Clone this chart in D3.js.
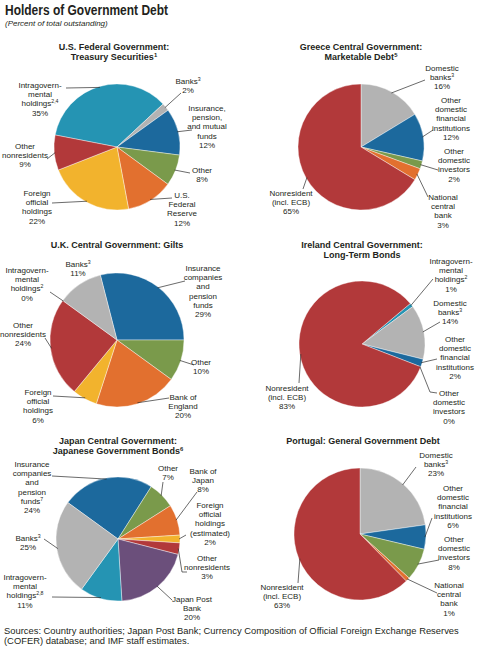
<!DOCTYPE html>
<html>
<head>
<meta charset="utf-8">
<script src="https://cdn.jsdelivr.net/npm/d3@7"></script>
<style>
  body { margin: 0; background: #fff; }
  text { font-family: "Liberation Sans", Arial, sans-serif; fill: #231f20; }
</style>
</head>
<body>
<div id="container"></div>
<script>
/* DATA (percent of total outstanding) */
// "|" splits a label into lines, {..} marks a superscript
const usTitle = ["U.S. Federal Government:", "Treasury Securities{1}"];
const usLabels = ["Intragovern-|mental|holdings{2,4}", "Banks{3}", "Insurance,|pension,|and mutual|funds", "Other", "U.S.|Federal|Reserve", "Foreign|official|holdings", "Other|nonresidents"];
const usValues = [35, 2, 12, 8, 12, 22, 9];

const grTitle = ["Greece Central Government:", "Marketable Debt{5}"];
const grLabels = ["Domestic|banks{3}", "Other|domestic|financial|institutions", "Other|domestic|investors", "National|central|bank", "Nonresident|(incl. ECB)"];
const grValues = [16, 12, 2, 3, 65];

const ukTitle = ["U.K. Central Government: Gilts"];
const ukLabels = ["Insurance|companies|and|pension|funds", "Other", "Bank of|England", "Foreign|official|holdings", "Other|nonresidents", "Intragovern-|mental|holdings{2}", "Banks{3}"];
const ukValues = [29, 10, 20, 6, 24, 0, 11];

const ieTitle = ["Ireland Central Government:", "Long-Term Bonds"];
const ieLabels = ["Intragovern-|mental|holdings{2}", "Domestic|banks{3}", "Other|domestic|financial|institutions", "Other|domestic|investors", "Nonresident|(incl. ECB)"];
const ieValues = [1, 14, 2, 0, 83];

const jpTitle = ["Japan Central Government:", "Japanese Government Bonds{6}"];
const jpLabels = ["Insurance|companies|and|pension|funds{7}", "Other", "Bank of|Japan", "Foreign|official|holdings|(estimated)", "Other|nonresidents", "Japan Post|Bank", "Intragovern-|mental|holdings{2,8}", "Banks{3}"];
const jpValues = [24, 7, 8, 2, 3, 20, 11, 25];

const ptTitle = ["Portugal: General Government Debt"];
const ptLabels = ["Domestic|banks{3}", "Other|domestic|financial|institutions", "Other|domestic|investors", "National|central|bank", "Nonresident|(incl. ECB)"];
const ptValues = [23, 6, 8, 1, 63];

const sourceLines = [
  "Sources: Country authorities; Japan Post Bank; Currency Composition of Official Foreign Exchange Reserves",
  "(COFER) database; and IMF staff estimates."
];

/* STYLES */
const C = {
  teal: "#2594b3", gray: "#b3b3b3", blue: "#1c699d", green: "#7a9a4b",
  orange: "#e2702f", gold: "#f2b32d", red: "#b2393a", purple: "#6b4f7b"
};

/* LAYOUT: pie centre, radius, start angle (deg), title spot, label spots [x, y, leader points] */
const panels = [
  { title: usTitle, labels: usLabels, values: usValues, cx: 117, cy: 147, r: 63, start: -79, tx: 114, ty: 50,
    colors: [C.teal, C.gray, C.blue, C.green, C.orange, C.gold, C.red],
    spots: [[40, 88, [[66, 88]]], [188, 84, [[181, 93]]], [207, 111, [[192, 130]]], [202, 173, [[190, 173]]],
            [182, 198, [[172, 198]]], [37, 196, [[52, 203]]], [25, 149, [[47, 159]]]] },
  { title: grTitle, labels: grLabels, values: grValues, cx: 361, cy: 147, r: 63, start: 0, tx: 361, ty: 50,
    colors: [C.gray, C.blue, C.green, C.orange, C.red],
    spots: [[442, 71, [[425, 80]]], [451, 103, [[433, 130]]], [454, 154, [[438, 170]]], [443, 200, [[428, 197]]],
            [291, 196, [[303, 189]]]] },
  { title: ukTitle, labels: ukLabels, values: ukValues, cx: 117, cy: 340, r: 67, start: -14.4, tx: 117, ty: 248,
    colors: [C.blue, C.green, C.orange, C.gold, C.red, C.teal, C.gray],
    spots: [[203, 271, [[185, 281]]], [201, 365, [[194, 365]]], [183, 400, [[169, 398]]], [38, 395, [[53, 396]]],
            [23, 328, [[45, 338]]], [27, 273, [[50, 292]]], [78, 267, []]] },
  { title: ieTitle, labels: ieLabels, values: ieValues, cx: 362, cy: 344, r: 63, start: 50, tx: 362, ty: 248,
    colors: [C.teal, C.gray, C.blue, C.green, C.red],
    spots: [[451, 264, [[433, 279]]], [450, 306, [[440, 322]]], [455, 342, [[437, 359]]],
            [449, 396, [[430, 392], [437, 393]]], [287, 391, [[299, 383]]]] },
  { title: jpTitle, labels: jpLabels, values: jpValues, cx: 118, cy: 539, r: 62, start: -54, tx: 118, ty: 444,
    colors: [C.blue, C.green, C.orange, C.gold, C.red, C.purple, C.teal, C.gray],
    spots: [[32, 467, [[52, 476]]], [168, 471, [[163, 482]]], [203, 474, [[197, 492]]], [210, 508, [[186, 535]]],
            [207, 561, [[182, 572], [187, 572]]], [192, 602, [[172, 600]]], [25, 580, [[52, 597]]], [28, 541, [[44, 539]]]] },
  { title: ptTitle, labels: ptLabels, values: ptValues, cx: 360, cy: 534, r: 66, start: 0, tx: 363, ty: 444,
    colors: [C.gray, C.blue, C.green, C.orange, C.red],
    spots: [[436, 458, [[416, 467]]], [453, 491, [[432, 518]]], [454, 542, [[439, 560]]], [449, 588, [[437, 593]]],
            [282, 590, [[298, 583]]]] }
];

const width = 480, height = 646;
const lineH = 9.2;
const rad = Math.PI / 180;

const svg = d3.select("#container")
  .append("svg")
  .attr("width", width)
  .attr("height", height);

// one line of text, with an optional superscript at the end
function writeLine(sel, str) {
  const m = str.match(/^(.*)\{(.+)\}$/);
  sel.append("tspan").text(m ? m[1] : str);
  if (m) sel.append("tspan").attr("dy", -3).style("font-size", "0.65em").text(m[2]);
}

/* HEADER */
svg.append("text")
  .attr("x", 5).attr("y", 15)
  .attr("textLength", 163).attr("lengthAdjust", "spacingAndGlyphs")
  .style("font-family", "'Liberation Sans Narrow', 'Liberation Sans', Arial, sans-serif")
  .style("font-size", "14.5px").style("font-weight", "bold")
  .text("Holders of Government Debt");

svg.append("text")
  .attr("x", 5).attr("y", 26)
  .style("font-size", "8px").style("font-style", "italic")
  .text("(Percent of total outstanding)");

/* PIES */
panels.forEach(p => {
  const pie = d3.pie().sort(null).value(d => d)
    .startAngle(p.start * rad).endAngle(p.start * rad + 2 * Math.PI);
  const arc = d3.arc().innerRadius(0).outerRadius(p.r);
  const arcs = pie(p.values);

  p.title.forEach((t, i) => {
    svg.append("text")
      .attr("x", p.tx).attr("y", p.ty + i * 9.8)
      .attr("text-anchor", "middle")
      .style("font-size", "9px").style("font-weight", "bold")
      .call(writeLine, t);
  });

  svg.append("g")
    .attr("transform", `translate(${p.cx},${p.cy})`)
    .selectAll("path")
    .data(arcs)
    .join("path")
    .attr("d", arc)
    .attr("fill", (d, i) => p.colors[i])
    .attr("stroke", d => d.value > 0 ? "#fff" : "none")
    .attr("stroke-width", 0.4);

  const leader = d3.line();
  arcs.forEach((d, i) => {
    const [lx, ly, pts] = p.spots[i];
    if (pts.length) {
      const [ex, ey] = d3.pointRadial((d.startAngle + d.endAngle) / 2, p.r - 1);
      svg.append("path")
        .attr("d", leader([[p.cx + ex, p.cy + ey], ...pts]))
        .attr("fill", "none")
        .attr("stroke", "#2b2b2b")
        .attr("stroke-width", 0.7);
    }
    const lines = p.labels[i].split("|").concat([d.value + "%"]);
    lines.forEach((ln, j) => {
      svg.append("text")
        .attr("x", lx).attr("y", ly + j * lineH)
        .attr("text-anchor", "middle")
        .style("font-size", "8px")
        .call(writeLine, ln);
    });
  });
});

/* FOOTER */
sourceLines.forEach((s, i) => {
  svg.append("text")
    .attr("x", 4).attr("y", 633.5 + i * 10.5)
    .style("font-size", "9.4px")
    .text(s);
});
</script>
</body>
</html>
